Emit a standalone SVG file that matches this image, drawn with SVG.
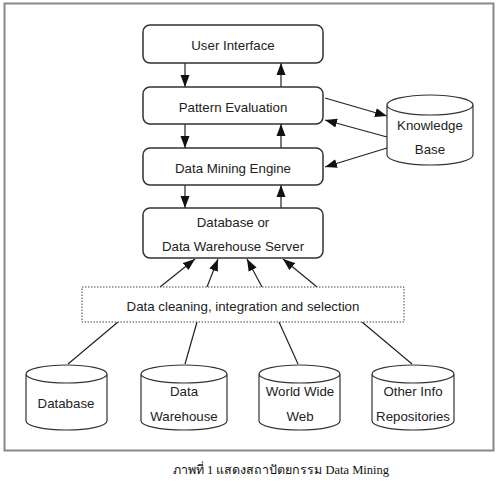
<svg xmlns="http://www.w3.org/2000/svg" width="498" height="483" viewBox="0 0 498 483">
<style>
.box{fill:#fff;stroke:#333;stroke-width:1.5}
.cyl{fill:#fff;stroke:#333;stroke-width:1.2}
.lbl{font-family:"Liberation Sans",Arial,sans-serif;font-size:13.3px;fill:#222;text-anchor:middle}
.ln{stroke:#222;stroke-width:1.2;fill:none}
.arr{stroke:#222;stroke-width:1.2;fill:none;marker-end:url(#ah)}
</style>
<defs>
<marker id="ah" viewBox="0 0 12 10" refX="12" refY="5" markerWidth="12" markerHeight="10" markerUnits="userSpaceOnUse" orient="auto">
<path d="M0,0.5 L12,5 L0,9.5 Z" fill="#111"/>
</marker>
</defs>
<rect x="4.5" y="3.5" width="489" height="447" fill="#fff" stroke="#888" stroke-width="2"/>
<g id="connectors">
<line class="arr" x1="185" y1="63" x2="185" y2="87"/>
<line class="arr" x1="281" y1="87" x2="281" y2="63"/>
<line class="arr" x1="185" y1="124" x2="185" y2="148"/>
<line class="arr" x1="281" y1="148" x2="281" y2="124"/>
<line class="arr" x1="185" y1="185" x2="185" y2="208"/>
<line class="arr" x1="281" y1="208" x2="281" y2="185"/>
<line class="arr" x1="325" y1="98" x2="387" y2="116"/>
<line class="arr" x1="387" y1="137" x2="325" y2="120"/>
<line class="arr" x1="387" y1="148" x2="325" y2="167"/>
<line class="arr" x1="160" y1="287" x2="195" y2="259"/>
<line class="arr" x1="207" y1="287" x2="218" y2="259"/>
<line class="arr" x1="262" y1="287" x2="247" y2="259"/>
<line class="arr" x1="317" y1="287" x2="283" y2="259"/>
<line class="ln" x1="118" y1="322" x2="68" y2="364"/>
<line class="ln" x1="197" y1="322" x2="185" y2="364"/>
<line class="ln" x1="279" y1="322" x2="298" y2="364"/>
<line class="ln" x1="362" y1="322" x2="412" y2="364"/>
</g>
<g id="ui">
<rect class="box" x="143" y="25" width="180" height="38" rx="7"/>
<text class="lbl" x="233" y="50">User Interface</text>
</g>
<g id="pe">
<rect class="box" x="143" y="87" width="180" height="37" rx="7"/>
<text class="lbl" x="233" y="112">Pattern Evaluation</text>
</g>
<g id="dme">
<rect class="box" x="143" y="148" width="180" height="37" rx="7"/>
<text class="lbl" x="233" y="173">Data Mining Engine</text>
</g>
<g id="server">
<rect class="box" x="143" y="208" width="180" height="50" rx="7"/>
<text class="lbl" x="233" y="227">Database or</text>
<text class="lbl" x="233" y="251">Data Warehouse Server</text>
</g>
<g id="kb">
<path class="cyl" d="M387,105 L387,155 A43,10 0 0 0 473,155 L473,105 A43,10 0 0 0 387,105 Z M387,105 A43,10 0 0 0 473,105"/>
<text class="lbl" x="430" y="130">Knowledge</text>
<text class="lbl" x="430" y="154">Base</text>
</g>
<g id="cleaning">
<rect x="82" y="287" width="322" height="35" fill="#fff" stroke="#444" stroke-width="1" stroke-dasharray="1.5,1.5"/>
<text class="lbl" x="243" y="311">Data cleaning, integration and selection</text>
</g>
<g id="db">
<path class="cyl" d="M26,374 L26,421 A40.5,9 0 0 0 107,421 L107,374 A40.5,9 0 0 0 26,374 Z M26,374 A40.5,9 0 0 0 107,374"/>
<text class="lbl" x="66" y="408">Database</text>
</g>
<g id="dw">
<path class="cyl" d="M141,374 L141,421 A43,9 0 0 0 227,421 L227,374 A43,9 0 0 0 141,374 Z M141,374 A43,9 0 0 0 227,374"/>
<text class="lbl" x="184" y="396">Data</text>
<text class="lbl" x="184" y="421">Warehouse</text>
</g>
<g id="www">
<path class="cyl" d="M259,374 L259,421 A40.5,9 0 0 0 340,421 L340,374 A40.5,9 0 0 0 259,374 Z M259,374 A40.5,9 0 0 0 340,374"/>
<text class="lbl" x="300" y="396">World Wide</text>
<text class="lbl" x="300" y="421">Web</text>
</g>
<g id="other">
<path class="cyl" d="M372,374 L372,421 A41,9 0 0 0 454,421 L454,374 A41,9 0 0 0 372,374 Z M372,374 A41,9 0 0 0 454,374"/>
<text class="lbl" x="413" y="396">Other Info</text>
<text class="lbl" x="413" y="421">Repositories</text>
</g>
<text x="281" y="474" text-anchor="middle" font-family="'Liberation Serif','Noto Sans',serif" font-size="12.5" fill="#111">ภาพที่ 1 แสดงสถาปัตยกรรม Data Mining</text>
</svg>
